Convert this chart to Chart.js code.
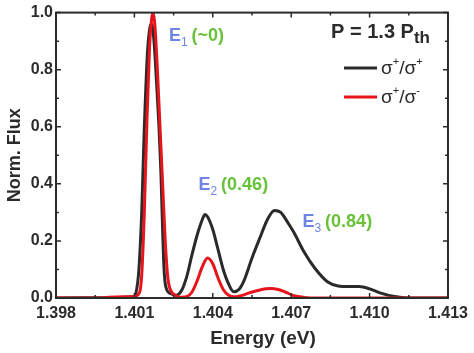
<!DOCTYPE html>
<html>
<head>
<meta charset="utf-8">
<style>
  html, body { margin: 0; padding: 0; background: #fff; }
  #wrap { width: 474px; height: 353px; }
</style>
<script src="https://cdn.jsdelivr.net/npm/chart.js@4/dist/chart.umd.min.js"></script>
</head>
<body>
<div id="wrap"><canvas id="myChart" width="474" height="353"></canvas></div>
<script>
// energy (eV) and normalized flux
const blackEnergy = [1.398, 1.400, 1.401, 1.40112, 1.40118, 1.40128, 1.40137, 1.4015, 1.4016, 1.40166,
  1.40175, 1.40185, 1.40194, 1.40201, 1.40213, 1.4022, 1.4024, 1.4026, 1.4028, 1.403,
  1.4032, 1.4034, 1.4036, 1.4037, 1.4038, 1.404, 1.4042, 1.4044, 1.4046, 1.4048,
  1.405, 1.4052, 1.4055, 1.4058, 1.4061, 1.40636, 1.4066, 1.4069, 1.4071, 1.4075,
  1.4079, 1.4084, 1.4088, 1.4092, 1.4096, 1.41, 1.4104, 1.4109, 1.4115, 1.413];
const blackFlux = [0, 0.001, 0.005, 0.05, 0.11, 0.3, 0.57, 0.86, 0.95, 0.96,
  0.9, 0.75, 0.6, 0.45, 0.11, 0.04, 0.015, 0.01, 0.025, 0.074,
  0.15, 0.22, 0.275, 0.293, 0.285, 0.24, 0.17, 0.1, 0.05, 0.022,
  0.03, 0.062, 0.14, 0.21, 0.277, 0.307, 0.3, 0.26, 0.23, 0.16,
  0.105, 0.056, 0.042, 0.04, 0.04, 0.032, 0.018, 0.006, 0, 0];

const redEnergy = [1.398, 1.3998, 1.400, 1.401, 1.4012, 1.40128, 1.40138, 1.40148, 1.40158, 1.40165,
  1.40171, 1.40178, 1.40188, 1.40198, 1.40208, 1.40218, 1.40228, 1.4024, 1.4026, 1.4028,
  1.403, 1.4032, 1.4034, 1.4036, 1.4038, 1.404, 1.4042, 1.4044, 1.4046, 1.4048,
  1.405, 1.4054, 1.4058, 1.4062, 1.4065, 1.4068, 1.4071, 1.4075, 1.408, 1.413];
const redFlux = [0, 0, 0.003, 0.005, 0.02, 0.08, 0.3, 0.62, 0.88, 0.97,
  1.0, 0.96, 0.8, 0.6, 0.4, 0.2, 0.07, 0.025, 0.008, 0.003,
  0.005, 0.02, 0.06, 0.11, 0.14, 0.12, 0.07, 0.03, 0.01, 0.004,
  0.006, 0.018, 0.028, 0.033, 0.03, 0.02, 0.008, 0.002, 0, 0];

const xTicks = [1.398, 1.401, 1.404, 1.407, 1.410, 1.413];
const yTicks = [0.0, 0.2, 0.4, 0.6, 0.8, 1.0];

// peak labels: [name, sub, value, energy, flux]
const peakLabels = [
  ["E", "1", "(~0)", 1.40232, 0.90],
  ["E", "2", "(0.46)", 1.40345, 0.38],
  ["E", "3", "(0.84)", 1.40743, 0.25]
];

const FONT = "'Liberation Sans', Arial, sans-serif";
const TEXT = "#2b2b2b";
const BLACK = "#2a2a2a";
const RED = "#e8141b";
const BLUE = "#6f84e6";
const GREEN = "#67c23a";

function toPoints(xs, ys) {
  return xs.map((x, i) => ({ x: x, y: ys[i] }));
}

// frame with inward ticks, labels and legend
const decor = {
  id: "decor",
  afterDatasetsDraw(chart) {
    const c = chart.ctx;
    const a = chart.chartArea;
    const xs = chart.scales.x;
    const ys = chart.scales.y;
    c.save();
    c.strokeStyle = TEXT;
    c.lineWidth = 2;
    c.strokeRect(a.left, a.top, a.right - a.left, a.bottom - a.top);
    c.lineWidth = 1.5;
    c.beginPath();
    for (let i = 0; i < xTicks.length; i++) {
      const px = xs.getPixelForValue(xTicks[i]);
      c.moveTo(px, a.bottom); c.lineTo(px, a.bottom - 5);
      c.moveTo(px, a.top); c.lineTo(px, a.top + 5);
      if (i < xTicks.length - 1) {
        const mx = xs.getPixelForValue((xTicks[i] + xTicks[i + 1]) / 2);
        c.moveTo(mx, a.bottom); c.lineTo(mx, a.bottom - 3);
        c.moveTo(mx, a.top); c.lineTo(mx, a.top + 3);
      }
    }
    for (let i = 0; i < yTicks.length; i++) {
      const py = ys.getPixelForValue(yTicks[i]);
      c.moveTo(a.left, py); c.lineTo(a.left + 5, py);
      c.moveTo(a.right, py); c.lineTo(a.right - 5, py);
      if (i < yTicks.length - 1) {
        const my = ys.getPixelForValue((yTicks[i] + yTicks[i + 1]) / 2);
        c.moveTo(a.left, my); c.lineTo(a.left + 3, my);
        c.moveTo(a.right, my); c.lineTo(a.right - 3, my);
      }
    }
    c.stroke();

    // x axis title, sits a bit right of centre in the original
    c.fillStyle = TEXT;
    c.textAlign = "center";
    c.textBaseline = "alphabetic";
    c.font = "bold 19px " + FONT;
    c.fillText("Energy (eV)", (a.left + a.right) / 2 + 11, 344);

    // peak labels
    c.textAlign = "left";
    peakLabels.forEach(p => {
      let px = xs.getPixelForValue(p[3]);
      const py = ys.getPixelForValue(p[4]);
      c.font = "bold 18px " + FONT;
      c.fillStyle = BLUE;
      c.fillText(p[0], px, py);
      px += c.measureText(p[0]).width;
      c.font = "12px " + FONT;
      c.fillText(p[1], px, py + 5);
      px += c.measureText(p[1]).width + 4;
      c.font = "bold 18px " + FONT;
      c.fillStyle = GREEN;
      c.fillText(p[2], px, py);
    });

    // title "P = 1.3 Pth"
    c.fillStyle = TEXT;
    const sub = "th";
    c.font = "bold 17px " + FONT;
    const subW = c.measureText(sub).width;
    c.font = "bold 20px " + FONT;
    const main = "P = 1.3 P";
    const mainW = c.measureText(main).width;
    const right = a.right - 18;
    c.fillText(main, right - subW - mainW, 38);
    c.font = "bold 17px " + FONT;
    c.fillText(sub, right - subW, 43);

    // legend
    const items = [[BLACK, "+", "+", 68], [RED, "+", "-", 97]];
    items.forEach(it => {
      c.strokeStyle = it[0];
      c.lineWidth = 3;
      c.beginPath();
      c.moveTo(344, it[3]); c.lineTo(377, it[3]);
      c.stroke();
      let tx = 381;
      c.fillStyle = TEXT;
      c.font = "19px " + FONT;
      c.fillText("σ", tx, it[3] + 6);
      tx += c.measureText("σ").width;
      c.font = "11px " + FONT;
      c.fillText(it[1], tx, it[3] - 3);
      tx += c.measureText(it[1]).width;
      c.font = "19px " + FONT;
      c.fillText("/σ", tx, it[3] + 6);
      tx += c.measureText("/σ").width;
      c.font = "11px " + FONT;
      c.fillText(it[2], tx, it[3] - 3);
    });
    c.restore();
  }
};

const ctx = document.getElementById("myChart").getContext("2d");
const myChart = new Chart(ctx, {
  type: "line",
  data: {
    datasets: [
      {
        label: "σ+/σ-",
        data: toPoints(redEnergy, redFlux),
        borderColor: RED,
        borderWidth: 3,
        pointRadius: 0,
        cubicInterpolationMode: "monotone",
        fill: false,
      },
      {
        label: "σ+/σ+",
        data: toPoints(blackEnergy, blackFlux),
        borderColor: BLACK,
        borderWidth: 3,
        pointRadius: 0,
        cubicInterpolationMode: "monotone",
        fill: false,
      },
    ],
  },
  options: {
    responsive: false,
    animation: false,
    events: [],
    layout: { padding: { left: 0, right: 23, top: 9, bottom: 0 } },
    plugins: { legend: { display: false }, tooltip: { enabled: false } },
    scales: {
      x: {
        type: "linear",
        min: 1.398,
        max: 1.413,
        afterFit: s => { s.height = 55; },
        afterBuildTicks: s => { s.ticks = xTicks.map(v => ({ value: v })); },
        grid: { display: false, drawTicks: false },
        border: { display: false },
        ticks: {
          padding: 6,
          color: TEXT,
          font: { family: FONT, size: 16, weight: "bold" },
          maxRotation: 0,
          callback: v => v.toFixed(3),
        },
        title: { display: false },
      },
      y: {
        min: 0,
        max: 1,
        afterFit: s => { s.width = 56; },
        afterBuildTicks: s => { s.ticks = yTicks.map(v => ({ value: v })); },
        grid: { display: false, drawTicks: false },
        border: { display: false },
        ticks: {
          padding: 3,
          color: TEXT,
          font: { family: FONT, size: 16, weight: "bold" },
          callback: v => v.toFixed(1),
        },
        title: {
          display: true,
          text: "Norm. Flux",
          color: TEXT,
          padding: { bottom: 0 },
          font: { family: FONT, size: 18, weight: "bold" },
        },
      },
    },
  },
  plugins: [decor],
});
</script>
</body>
</html>
